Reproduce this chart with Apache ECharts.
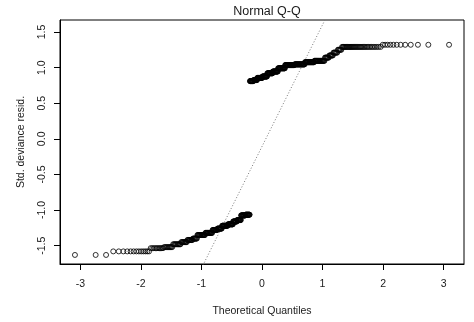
<!DOCTYPE html>
<html>
<head>
<meta charset="utf-8">
<script src="https://cdn.jsdelivr.net/npm/echarts@6/dist/echarts.min.js"></script>
<style>
  html, body { margin: 0; padding: 0; background: #fff; }
  #chart { width: 474px; height: 322px; }
</style>
</head>
<body>
<div id="chart"></div>
<script>
// Sorted standardized deviance residuals, stored as value levels and how many
// observations sit at each level (500 observations in total).
const residLevels = [-1.63, -1.58, -1.535, -1.52, -1.48, -1.45, -1.42, -1.40,
                     -1.35, -1.32, -1.28, -1.26, -1.22, -1.20, -1.16, -1.14, -1.075, -1.065,
                     0.81, 0.825, 0.855, 0.875, 0.92, 0.945, 0.99, 1.035, 1.045, 1.075, 1.095,
                     1.14, 1.17, 1.21, 1.25, 1.29, 1.32];
const residCounts = [3, 13, 10, 9, 10, 9, 9, 8,
                     16, 16, 12, 12, 16, 15, 12, 12, 14, 14,
                     12, 12, 17, 16, 18, 17, 22, 28, 28, 23, 22,
                     8, 7, 7, 6, 35, 12];

const xTicks = [-3, -2, -1, 0, 1, 2, 3];
const yTicks = [-1.5, -1.0, -0.5, 0.0, 0.5, 1.0, 1.5];
const xRange = [-3.337, 3.337];
const yRange = [-1.757, 1.668];

// Inverse standard normal CDF (Acklam's rational approximation)
function qnorm(p) {
  const a = [-3.969683028665376e+01, 2.209460984245205e+02, -2.759285104469687e+02,
             1.383577518672690e+02, -3.066479806614716e+01, 2.506628277459239e+00];
  const b = [-5.447609879822406e+01, 1.615858368580409e+02, -1.556989798598866e+02,
             6.680131188771972e+01, -1.328068155288572e+01];
  const c = [-7.784894002430293e-03, -3.223964580411365e-01, -2.400758277161838e+00,
             -2.549732539343734e+00, 4.374664141464968e+00, 2.938163982698783e+00];
  const d = [7.784695709041462e-03, 3.224671290700398e-01, 2.445134137142996e+00,
             3.754408661907416e+00];
  const pl = 0.02425, ph = 1 - pl;
  let q, r;
  if (p < pl) {
    q = Math.sqrt(-2 * Math.log(p));
    return (((((c[0]*q+c[1])*q+c[2])*q+c[3])*q+c[4])*q+c[5]) /
           ((((d[0]*q+d[1])*q+d[2])*q+d[3])*q+1);
  }
  if (p <= ph) {
    q = p - 0.5; r = q * q;
    return (((((a[0]*r+a[1])*r+a[2])*r+a[3])*r+a[4])*r+a[5])*q /
           (((((b[0]*r+b[1])*r+b[2])*r+b[3])*r+b[4])*r+1);
  }
  q = Math.sqrt(-2 * Math.log(1 - p));
  return -(((((c[0]*q+c[1])*q+c[2])*q+c[3])*q+c[4])*q+c[5]) /
          ((((d[0]*q+d[1])*q+d[2])*q+d[3])*q+1);
}

// Expand the levels into the sorted residual vector
const resid = [];
residLevels.forEach((v, i) => { for (let k = 0; k < residCounts[i]; k++) resid.push(v); });
const n = resid.length;

// Theoretical quantiles at plotting positions (i - 0.5) / n
const points = resid.map((v, i) => [qnorm((i + 0.5) / n), v]);

// Reference line through the first and third quartiles
function quantile7(arr, p) {
  const h = (arr.length - 1) * p;
  const lo = Math.floor(h);
  return arr[lo] + (h - lo) * (arr[Math.min(lo + 1, arr.length - 1)] - arr[lo]);
}
const yq = [quantile7(resid, 0.25), quantile7(resid, 0.75)];
const xq = [qnorm(0.25), qnorm(0.75)];
const slope = (yq[1] - yq[0]) / (xq[1] - xq[0]);
const intercept = yq[0] - slope * xq[0];
const refLine = xRange.map(x => [x, intercept + slope * x]);

const font = 'Liberation Sans, Arial, sans-serif';
const textColor = '#1a1a1a';

const chart = echarts.init(document.getElementById('chart'), null, { renderer: 'canvas' });
chart.setOption({
  animation: false,
  backgroundColor: '#fff',
  title: {
    text: 'Normal Q-Q',
    left: 262, top: 0,
    textAlign: 'center',
    textStyle: { fontFamily: font, fontSize: 12.5, fontWeight: 'normal', color: textColor }
  },
  grid: {
    left: 60, right: 10, top: 20, bottom: 58,
    show: true, borderColor: '#000', borderWidth: 1, backgroundColor: 'transparent'
  },
  xAxis: {
    type: 'value', min: xRange[0], max: xRange[1],
    name: 'Theoretical Quantiles', nameLocation: 'middle', nameGap: 42,
    nameTextStyle: { fontFamily: font, fontSize: 10.5, color: textColor },
    axisLine: { show: true, onZero: false, lineStyle: { color: '#000', width: 1 } },
    axisTick: { show: true, inside: false, length: 6, customValues: xTicks,
                lineStyle: { color: '#000', width: 1 } },
    axisLabel: { customValues: xTicks, margin: 15, fontFamily: font, fontSize: 10.5,
                 color: textColor, formatter: v => String(v) },
    splitLine: { show: false }
  },
  yAxis: {
    type: 'value', min: yRange[0], max: yRange[1],
    name: 'Std. deviance resid.', nameLocation: 'middle', nameGap: 33, nameRotate: 90,
    nameTextStyle: { fontFamily: font, fontSize: 10.5, color: textColor },
    axisLine: { show: true, onZero: false, lineStyle: { color: '#000', width: 1 } },
    axisTick: { show: true, inside: false, length: 6, customValues: yTicks,
                lineStyle: { color: '#000', width: 1 } },
    axisLabel: { customValues: yTicks, rotate: 90, margin: 12, fontFamily: font, fontSize: 10.5,
                 color: textColor, formatter: v => v.toFixed(1) },
    splitLine: { show: false }
  },
  series: [
    {
      type: 'line',
      data: refLine,
      symbol: 'none',
      clip: true,
      lineStyle: { color: '#777', width: 1, type: [1, 2] },
      z: 1
    },
    {
      type: 'scatter',
      data: points,
      symbol: 'circle',
      symbolSize: 5,
      itemStyle: { color: 'rgba(0,0,0,0)', borderColor: '#000', borderWidth: 1 },
      z: 2
    }
  ]
});
</script>
</body>
</html>
